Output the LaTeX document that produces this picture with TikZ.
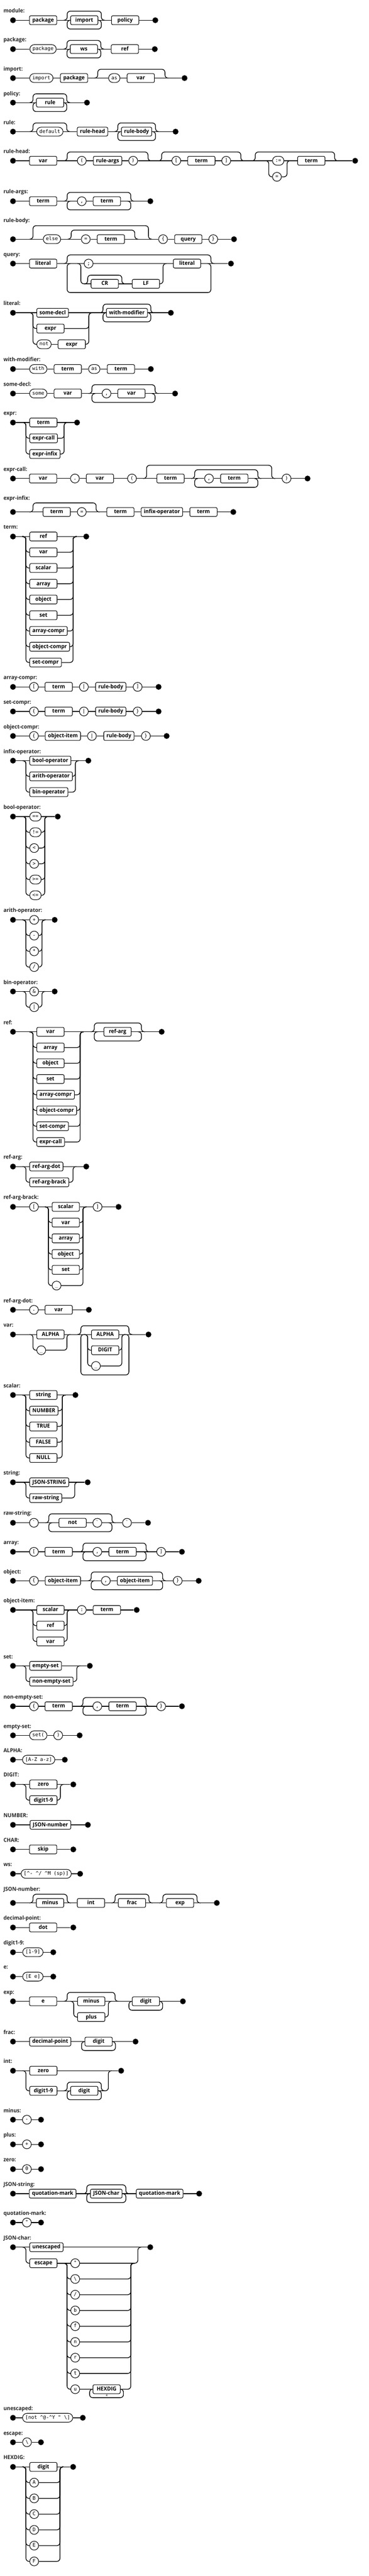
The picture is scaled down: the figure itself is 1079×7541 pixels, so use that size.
\documentclass[tikz,border=0pt]{standalone}
\usepackage{fontspec}
\setmainfont{Open Sans}[FakeStretch=0.95]
\setmonofont{DejaVu Sans Mono}

\newcommand\rrskip[4]{\draw[rrline] (#1-10,#3) -| (#1,#4) -| (#2,#3) -- (#2+10,#3);}
\newcommand\rrloop[4]{\draw[rrline] (#2-10,#3) -| (#2,#4) -| (#1,#3) -- (#1+10,#3);}
\newcommand\rrdown[4]{\draw[rrline] (#1-10,#2) -| (#1,#3) -- (#4.west);}
\newcommand\rrup[3]{\draw[rrline] (#1.east) -| (#2,#3) -- (#2+10,#3);}

\tikzset{
  rrhead/.style={anchor=base west, inner sep=0pt, text=black!85, font=\bfseries\fontsize{16}{18}\selectfont},
  rrbox/.style={draw, line width=1.6pt, rounded corners=4pt, minimum width=80pt, minimum height=26pt, inner xsep=8pt, inner ysep=0pt, text height=11pt, text depth=2pt, font=\bfseries\fontsize{16}{18}\selectfont},
  rrterm/.style={draw, line width=1.6pt, rounded corners=13pt, minimum height=26pt, inner xsep=8pt, inner ysep=0pt, text height=10pt, text depth=2pt, font=\ttfamily\fontsize{14.5}{16}\selectfont},
  rrchar/.style={draw, circle, line width=1.6pt, minimum size=26pt, inner sep=0pt, text height=10pt, text depth=2pt, font=\ttfamily\fontsize{14.5}{16}\selectfont},
  rrdot/.style={circle, fill, inner sep=0pt, minimum size=17pt},
  rrline/.style={line width=2pt, rounded corners=9pt},
}

\begin{document}
\begin{tikzpicture}[x=1pt, y=-1pt]
\fill[white] (0,0) rectangle (1079,7541);
\useasboundingbox (0,0) rectangle (1079,7541);

\node[rrhead] (mod-t) at (10,36.8) {module:};
\node[rrdot] (mod-s) at (38,59.2) {};
\node[rrbox] (mod-package) at (126.2,59.2) {package};
\node[rrbox] (mod-import) at (246.6,59.2) {import};
\node[rrbox] (mod-policy) at (366.2,59.2) {policy};
\node[rrdot] (mod-e) at (454.5,59.2) {};
\draw[rrline] (mod-s) to (mod-package) to (mod-import) to (mod-policy) to (mod-e);
\rrskip{196.6}{296.6}{59.2}{32.7}
\rrloop{196.6}{296.6}{59.2}{84.9}

\node[rrhead] (pkg-t) at (10,122.1) {package:};
\node[rrdot] (pkg-s) at (38,143.7) {};
\node[rrterm] (pkg-kw) at (126,143.7) {package};
\node[rrbox] (pkg-ws) at (245.5,143.7) {ws};
\node[rrbox] (pkg-ref) at (365.5,143.7) {ref};
\node[rrdot] (pkg-e) at (453,143.7) {};
\draw[rrline] (pkg-s) to (pkg-kw) to (pkg-ws) to (pkg-ref) to (pkg-e);
\rrskip{196}{295}{143.7}{118.4}
\rrloop{196}{295}{143.7}{169.4}

\node[rrhead] (imp-t) at (10,207) {import:};
\node[rrdot] (imp-s) at (38,228.6) {};
\node[rrterm] (imp-kw) at (121,228.6) {import};
\node[rrbox] (imp-package) at (216.6,228.6) {package};
\node[rrterm] (imp-as) at (334.5,228.6) {as};
\node[rrbox] (imp-var) at (412,228.6) {var};
\node[rrdot] (imp-e) at (540,228.6) {};
\draw[rrline] (imp-s) to (imp-kw) to (imp-package) to (imp-as) to (imp-var) to (imp-e);
\rrskip{286}{482.8}{228.6}{202.9}

\node[rrhead] (pol-t) at (10,279.3) {policy:};
\node[rrdot] (pol-s) at (38,300.4) {};
\node[rrbox] (pol-rule) at (146.6,300.4) {rule};
\node[rrdot] (pol-e) at (254.5,300.4) {};
\draw[rrline] (pol-s) to (pol-rule) to (pol-e);
\rrskip{96.6}{195.2}{300.4}{274.7}
\rrloop{96.6}{195.2}{300.4}{326.5}

\node[rrhead] (rule-t) at (10,364.2) {rule:};
\node[rrdot] (rule-s) at (38,385.3) {};
\node[rrterm] (rule-default) at (145.9,385.3) {default};
\node[rrbox] (rule-head) at (270.7,385.3) {rule-head};
\node[rrbox] (rule-body) at (399.7,385.3) {rule-body};
\node[rrdot] (rule-e) at (513.8,385.3) {};
\draw[rrline] (rule-s) to (rule-default) to (rule-head) to (rule-body) to (rule-e);
\rrskip{96.6}{195.2}{385.3}{360}
\rrskip{344.8}{455.2}{385.3}{360}
\rrloop{344.8}{455.2}{385.3}{411.4}

\node[rrhead] (rh-t) at (10,448.7) {rule-head:};
\node[rrdot] (rh-s) at (38,470.6) {};
\node[rrbox] (rh-var) at (126.2,470.6) {var};
\node[rrchar] (rh-lp) at (239.3,470.6) {(};
\node[rrbox] (rh-args) at (314.8,470.6) {rule-args};
\node[rrchar] (rh-rp) at (389.7,470.6) {)};
\node[rrchar] (rh-lb) at (515.9,470.6) {[};
\node[rrbox] (rh-term) at (589.3,470.6) {term};
\node[rrchar] (rh-rb) at (662,470.6) {]};
\node[rrterm, anchor=west] (rh-assign) at (796.6,470.6) {:=};
\node[rrchar, anchor=west] (rh-eq) at (796.6,517.6) {=};
\node[rrbox] (rh-val) at (911,470.6) {term};
\node[rrdot] (rh-e) at (1039.3,470.6) {};
\draw[rrline] (rh-s) to (rh-var) to (rh-lp) to (rh-args) to (rh-rp) to (rh-lb) to (rh-term) to (rh-rb) to (rh-assign) to (rh-val) to (rh-e);
\rrskip{196.6}{433.1}{470.6}{444.9}
\rrskip{473.1}{704.8}{470.6}{444.9}
\rrskip{746.9}{979.3}{470.6}{444.9}
\rrdown{786.6}{470.6}{517.6}{rh-eq}
\rrup{rh-eq}{840}{470.6}

\node[rrhead] (ra-t) at (10,567) {rule-args:};
\node[rrdot] (ra-s) at (38,589) {};
\node[rrbox] (ra-term) at (126.2,589) {term};
\node[rrchar] (ra-comma) at (239.3,589) {,};
\node[rrbox] (ra-term2) at (312.8,589) {term};
\node[rrdot] (ra-e) at (440,589) {};
\draw[rrline] (ra-s) to (ra-term) to (ra-comma) to (ra-term2) to (ra-e);
\rrskip{196.6}{382.8}{589}{563.3}
\rrloop{196.6}{382.8}{589}{614.3}

\node[rrhead] (rb-t) at (10,651.3) {rule-body:};
\node[rrdot] (rb-s) at (38,700.2) {};
\node[rrterm] (rb-else) at (152,700.2) {else};
\node[rrchar] (rb-eq) at (251,700.2) {=};
\node[rrbox] (rb-term) at (324.5,700.2) {term};
\node[rrchar] (rb-lc) at (477.2,700.2) {\{};
\node[rrbox] (rb-query) at (551,700.2) {query};
\node[rrchar] (rb-rc) at (624.1,700.2) {\}};
\node[rrdot] (rb-e) at (684.8,700.2) {};
\draw[rrline] (rb-s) to (rb-else) to (rb-eq) to (rb-term) to (rb-lc) to (rb-query) to (rb-rc) to (rb-e);
\rrskip{96.6}{434.5}{700.2}{660.6}
\rrskip{208.3}{394.5}{700.2}{673.7}

\node[rrhead] (q-t) at (10,750.5) {query:};
\node[rrdot] (q-s) at (38,771.6) {};
\node[rrbox] (q-lit) at (126.2,771.6) {literal};
\node[rrchar] (q-semi) at (259.3,771.6) {;};
\node[rrbox] (q-cr) at (306.6,830.8) {CR};
\node[rrbox] (q-lf) at (426.9,830.8) {LF};
\node[rrbox] (q-lit2) at (547.2,771.6) {literal};
\node[rrdot] (q-e) at (675.9,771.6) {};
\draw[rrline] (q-s) to (q-lit) to (q-semi) to (q-lit2) to (q-e);
\draw[rrline] (q-cr) to (q-lf);
\rrskip{196.6}{617.2}{771.6}{746.3}
\rrloop{196.6}{617.2}{771.6}{856.5}
\rrdown{236.6}{771.6}{830.8}{q-cr}
\rrskip{256.6}{356.6}{830.8}{805.5}
\rrup{q-lf}{477.2}{771.6}

\node[rrhead] (lit-t) at (10,893.4) {literal:};
\node[rrdot] (lit-s) at (38,915.7) {};
\node[rrbox, anchor=west] (lit-some) at (106.9,915.7) {some-decl};
\node[rrbox, anchor=west] (lit-expr) at (106.9,961.8) {expr};
\node[rrterm, anchor=west] (lit-not) at (106.9,1007.9) {not};
\node[rrbox] (lit-expr2) at (210,1007.9) {expr};
\node[rrbox] (lit-with) at (371.4,915.7) {with-modifier};
\node[rrdot] (lit-e) at (500,915.7) {};
\draw[rrline] (lit-s) to (lit-some) to (lit-with) to (lit-e);
\draw[rrline] (lit-not) to (lit-expr2);
\rrdown{96.6}{915.7}{961.8}{lit-expr}
\rrup{lit-expr}{260}{915.7}
\rrdown{96.6}{915.7}{1007.9}{lit-not}
\rrup{lit-expr2}{260}{915.7}
\rrskip{301.4}{441.4}{915.7}{890.4}
\rrloop{301.4}{441.4}{915.7}{942.2}

\node[rrhead] (wm-t) at (10,1057.4) {with-modifier:};
\node[rrdot] (wm-s) at (38,1080.2) {};
\node[rrterm] (wm-with) at (112,1080.2) {with};
\node[rrbox] (wm-term) at (198.3,1080.2) {term};
\node[rrterm] (wm-as) at (275.9,1080.2) {as};
\node[rrbox] (wm-term2) at (353.8,1080.2) {term};
\node[rrdot] (wm-e) at (441.4,1080.2) {};
\draw[rrline] (wm-s) to (wm-with) to (wm-term) to (wm-as) to (wm-term2) to (wm-e);

\node[rrhead] (sd-t) at (10,1129.7) {some-decl:};
\node[rrdot] (sd-s) at (38,1152) {};
\node[rrterm] (sd-some) at (112,1152) {some};
\node[rrbox] (sd-var) at (198.3,1152) {var};
\node[rrchar] (sd-comma) at (311.7,1152) {,};
\node[rrbox] (sd-var2) at (384.8,1152) {var};
\node[rrdot] (sd-e) at (512.4,1152) {};
\draw[rrline] (sd-s) to (sd-some) to (sd-var) to (sd-comma) to (sd-var2) to (sd-e);
\rrskip{269}{453.8}{1152}{1126.3}
\rrloop{269}{453.8}{1152}{1177.8}

\node[rrhead] (ex-t) at (10,1215.4) {expr:};
\node[rrdot] (ex-s) at (38,1236.9) {};
\node[rrbox, anchor=west] (ex-term) at (86.2,1236.9) {term};
\node[rrbox, anchor=west] (ex-call) at (86.2,1283) {expr-call};
\node[rrbox, anchor=west] (ex-infix) at (86.2,1329.1) {expr-infix};
\node[rrdot] (ex-e) at (225.5,1236.9) {};
\draw[rrline] (ex-s) to (ex-term) to (ex-e);
\rrdown{75.9}{1236.9}{1283}{ex-call}
\rrup{ex-call}{187.6}{1236.9}
\rrdown{75.9}{1236.9}{1329.1}{ex-infix}
\rrup{ex-infix}{187.6}{1236.9}

\node[rrhead] (ec-t) at (10,1379.3) {expr-call:};
\node[rrdot] (ec-s) at (38,1400.8) {};
\node[rrbox] (ec-var) at (126.2,1400.8) {var};
\node[rrchar] (ec-dot) at (219.3,1400.8) {.};
\node[rrbox] (ec-var2) at (292.4,1400.8) {var};
\node[rrchar] (ec-lp) at (386.2,1400.8) {(};
\node[rrbox] (ec-term) at (499,1400.8) {term};
\node[rrchar] (ec-comma) at (611.7,1400.8) {,};
\node[rrbox] (ec-term2) at (685.5,1400.8) {term};
\node[rrchar] (ec-rp) at (838.6,1400.8) {)};
\node[rrdot] (ec-e) at (900,1400.8) {};
\draw[rrline] (ec-s) to (ec-var) to (ec-dot) to (ec-var2) to (ec-lp) to (ec-term) to (ec-comma) to (ec-term2) to (ec-rp) to (ec-e);
\rrskip{429}{795.2}{1400.8}{1362}
\rrskip{569.7}{754.5}{1400.8}{1375.1}
\rrloop{569.7}{754.5}{1400.8}{1426.5}

\node[rrhead] (ei-t) at (10,1464.2) {expr-infix:};
\node[rrdot] (ei-s) at (38,1498.8) {};
\node[rrbox] (ei-term) at (165.9,1498.8) {term};
\node[rrchar] (ei-eq) at (239.3,1498.8) {=};
\node[rrbox] (ei-term2) at (352.4,1498.8) {term};
\node[rrbox] (ei-op) at (473.8,1498.8) {infix-operator};
\node[rrbox] (ei-term3) at (595.5,1498.8) {term};
\node[rrdot] (ei-e) at (682.8,1498.8) {};
\draw[rrline] (ei-s) to (ei-term) to (ei-eq) to (ei-term2) to (ei-op) to (ei-term3) to (ei-e);
\rrskip{96.6}{281.4}{1498.8}{1472.2}

\node[rrhead] (tm-t) at (10,1548.7) {term:};
\node[rrdot] (tm-s) at (38,1570.6) {};
\node[rrbox, anchor=west] (tm-0) at (86.2,1570.6) {ref};
\foreach \lbl [count=\i] in {var,scalar,array,object,set,array-compr,object-compr,set-compr} {
  \node[rrbox, anchor=west] (tm-\i) at (86.2,1570.6+46.1*\i) {\lbl};
  \rrdown{75.9}{1570.6}{1570.6+46.1*\i}{tm-\i}
  \rrup{tm-\i}{213.8}{1570.6}
}
\node[rrdot] (tm-e) at (252.4,1570.6) {};
\draw[rrline] (tm-s) to (tm-0) to (tm-e);

\node[rrhead] (ac-t) at (10,1988.9) {array-compr:};
\node[rrdot] (ac-s) at (38,2010.8) {};
\node[rrchar] (ac-lb) at (99.3,2010.8) {[};
\node[rrbox] (ac-term) at (171.7,2010.8) {term};
\node[rrchar] (ac-bar) at (245.5,2010.8) {|};
\node[rrbox] (ac-body) at (324.1,2010.8) {rule-body};
\node[rrchar] (ac-rb) at (402.8,2010.8) {]};
\node[rrdot] (ac-e) at (464.1,2010.8) {};
\draw[rrline] (ac-s) to (ac-lb) to (ac-term) to (ac-bar) to (ac-body) to (ac-rb) to (ac-e);

\node[rrhead] (sc-t) at (10,2061.1) {set-compr:};
\node[rrdot] (sc-s) at (38,2082.7) {};
\node[rrchar] (sc-lc) at (99.3,2082.7) {\{};
\node[rrbox] (sc-term) at (171.7,2082.7) {term};
\node[rrchar] (sc-bar) at (245.5,2082.7) {|};
\node[rrbox] (sc-body) at (324.1,2082.7) {rule-body};
\node[rrchar] (sc-rc) at (402.8,2082.7) {\}};
\node[rrdot] (sc-e) at (464.1,2082.7) {};
\draw[rrline] (sc-s) to (sc-lc) to (sc-term) to (sc-bar) to (sc-body) to (sc-rc) to (sc-e);

\node[rrhead] (oc-t) at (10,2133) {object-compr:};
\node[rrdot] (oc-s) at (38,2154.5) {};
\node[rrchar] (oc-lc) at (99.3,2154.5) {\{};
\node[rrbox] (oc-item) at (184.1,2154.5) {object-item};
\node[rrchar] (oc-bar) at (269,2154.5) {|};
\node[rrbox] (oc-body) at (347.9,2154.5) {rule-body};
\node[rrchar] (oc-rc) at (426.9,2154.5) {\}};
\node[rrdot] (oc-e) at (487.6,2154.5) {};
\draw[rrline] (oc-s) to (oc-lc) to (oc-item) to (oc-bar) to (oc-body) to (oc-rc) to (oc-e);

\node[rrhead] (io-t) at (10,2205.2) {infix-operator:};
\node[rrdot] (io-s) at (38,2226.7) {};
\node[rrbox, anchor=west] (io-0) at (86.2,2226.7) {bool-operator};
\foreach \lbl [count=\i] in {arith-operator,bin-operator} {
  \node[rrbox, anchor=west] (io-\i) at (86.2,2226.7+46.1*\i) {\lbl};
  \rrdown{75.9}{2226.7}{2226.7+46.1*\i}{io-\i}
  \rrup{io-\i}{220.7}{2226.7}
}
\node[rrdot] (io-e) at (258.6,2226.7) {};
\draw[rrline] (io-s) to (io-0) to (io-e);

\node[rrhead] (bo-t) at (10,2369.3) {bool-operator:};
\node[rrdot] (bo-s) at (38,2390.4) {};
\node[rrterm, anchor=west] (bo-0) at (86.2,2390.4) {==};
\node[rrterm, anchor=west] (bo-1) at (86.2,2436.5) {!=};
\node[rrchar, anchor=west] (bo-2) at (86.2,2482.6) {<};
\node[rrchar, anchor=west] (bo-3) at (86.2,2528.7) {>};
\node[rrterm, anchor=west] (bo-4) at (86.2,2574.8) {>=};
\node[rrterm, anchor=west] (bo-5) at (86.2,2620.9) {<=};
\foreach \i in {1,...,5} {
  \rrdown{75.9}{2390.4}{2390.4+46.1*\i}{bo-\i}
  \rrup{bo-\i}{131}{2390.4}
}
\node[rrdot] (bo-e) at (169,2390.4) {};
\draw[rrline] (bo-s) to (bo-0) to (bo-e);

\node[rrhead] (ao-t) at (10,2670.7) {arith-operator:};
\node[rrdot] (ao-s) at (38,2692.7) {};
\node[rrchar, anchor=west] (ao-0) at (86.2,2692.7) {+};
\foreach \lbl [count=\i] in {-,*,/} {
  \node[rrchar, anchor=west] (ao-\i) at (86.2,2692.7+46.1*\i) {\lbl};
  \rrdown{75.9}{2692.7}{2692.7+46.1*\i}{ao-\i}
  \rrup{ao-\i}{122.8}{2692.7}
}
\node[rrdot] (ao-e) at (160,2692.7) {};
\draw[rrline] (ao-s) to (ao-0) to (ao-e);

\node[rrhead] (bi-t) at (10,2880.9) {bin-operator:};
\node[rrdot] (bi-s) at (38,2902.4) {};
\node[rrchar, anchor=west] (bi-0) at (86.2,2902.4) {\&};
\node[rrchar, anchor=west] (bi-1) at (86.2,2948.5) {|};
\node[rrdot] (bi-e) at (160,2902.4) {};
\draw[rrline] (bi-s) to (bi-0) to (bi-e);
\rrdown{75.9}{2902.4}{2948.5}{bi-1}
\rrup{bi-1}{122.8}{2902.4}

\node[rrhead] (rf-t) at (10,2999.3) {ref:};
\node[rrdot] (rf-s) at (38,3020.4) {};
\node[rrbox, anchor=west] (rf-0) at (106.9,3020.4) {var};
\foreach \lbl [count=\i] in {array,object,set,array-compr,object-compr,set-compr,expr-call} {
  \node[rrbox, anchor=west] (rf-\i) at (106.9,3020.4+46.1*\i) {\lbl};
  \rrdown{96.6}{3020.4}{3020.4+46.1*\i}{rf-\i}
  \rrup{rf-\i}{234.5}{3020.4}
}
\node[rrbox] (rf-arg) at (344.1,3020.4) {ref-arg};
\node[rrdot] (rf-e) at (473.1,3020.4) {};
\draw[rrline] (rf-s) to (rf-0) to (rf-arg) to (rf-e);
\rrskip{275.9}{413.8}{3020.4}{2994.7}
\rrloop{275.9}{413.8}{3020.4}{3047.3}

\node[rrhead] (ra2-t) at (10,3393) {ref-arg:};
\node[rrdot] (ra2-s) at (38,3414.9) {};
\node[rrbox, anchor=west] (ra2-dot) at (86.2,3414.9) {ref-arg-dot};
\node[rrbox, anchor=west] (ra2-brack) at (86.2,3461) {ref-arg-brack};
\node[rrdot] (ra2-e) at (252.4,3414.9) {};
\draw[rrline] (ra2-s) to (ra2-dot) to (ra2-e);
\rrdown{75.9}{3414.9}{3461}{ra2-brack}
\rrup{ra2-brack}{213.8}{3414.9}

\node[rrhead] (rab-t) at (10,3510.9) {ref-arg-brack:};
\node[rrdot] (rab-s) at (38,3532.9) {};
\node[rrchar] (rab-lb) at (99.3,3532.9) {[};
\node[rrbox, anchor=west] (rab-0) at (151.7,3532.9) {scalar};
\node[rrbox, anchor=west] (rab-1) at (151.7,3579) {var};
\node[rrbox, anchor=west] (rab-2) at (151.7,3625.1) {array};
\node[rrbox, anchor=west] (rab-3) at (151.7,3671.2) {object};
\node[rrbox, anchor=west] (rab-4) at (151.7,3717.3) {set};
\node[rrchar, anchor=west] (rab-5) at (151.7,3763.4) {\_};
\foreach \i in {1,...,5} {
  \rrdown{141.7}{3532.9}{3532.9+46.1*\i}{rab-\i}
  \rrup{rab-\i}{242.8}{3532.9}
}
\node[rrchar] (rab-rb) at (285.5,3532.9) {]};
\node[rrdot] (rab-e) at (346.9,3532.9) {};
\draw[rrline] (rab-s) to (rab-lb) to (rab-0) to (rab-rb) to (rab-e);

\node[rrhead] (rad-t) at (10,3812.8) {ref-arg-dot:};
\node[rrdot] (rad-s) at (38,3834.3) {};
\node[rrchar] (rad-dot) at (99.3,3834.3) {.};
\node[rrbox] (rad-var) at (171.7,3834.3) {var};
\node[rrdot] (rad-e) at (260,3834.3) {};
\draw[rrline] (rad-s) to (rad-dot) to (rad-var) to (rad-e);

\node[rrhead] (v-t) at (10,3885) {var:};
\node[rrdot] (v-s) at (38,3906.5) {};
\node[rrbox, anchor=west] (v-alpha) at (106.9,3906.5) {ALPHA};
\node[rrchar, anchor=west] (v-us) at (106.9,3952.6) {\_};
\node[rrbox, anchor=west] (v-alpha2) at (266.9,3906.5) {ALPHA};
\node[rrbox, anchor=west] (v-digit) at (266.9,3952.6) {DIGIT};
\node[rrchar, anchor=west] (v-us2) at (266.9,3998.7) {\_};
\node[rrdot] (v-e) at (434.5,3906.5) {};
\draw[rrline] (v-s) to (v-alpha) to (v-alpha2) to (v-e);
\rrdown{96.6}{3906.5}{3952.6}{v-us}
\rrup{v-us}{195.9}{3906.5}
\rrdown{256.6}{3906.5}{3952.6}{v-digit}
\rrup{v-digit}{356.6}{3906.5}
\rrdown{256.6}{3906.5}{3998.7}{v-us2}
\rrup{v-us2}{356.6}{3906.5}
\rrskip{236.6}{377.2}{3906.5}{3880.8}
\rrloop{236.6}{377.2}{3906.5}{4024.9}

\node[rrhead] (sl-t) at (10,4061.7) {scalar:};
\node[rrdot] (sl-s) at (38,4083.7) {};
\node[rrbox, anchor=west] (sl-0) at (86.2,4083.7) {string};
\foreach \lbl [count=\i] in {NUMBER,TRUE,FALSE,NULL} {
  \node[rrbox, anchor=west] (sl-\i) at (86.2,4083.7+46.1*\i) {\lbl};
  \rrdown{75.9}{4083.7}{4083.7+46.1*\i}{sl-\i}
  \rrup{sl-\i}{182}{4083.7}
}
\node[rrdot] (sl-e) at (220.7,4083.7) {};
\draw[rrline] (sl-s) to (sl-0) to (sl-e);

\node[rrhead] (st-t) at (10,4317.7) {string:};
\node[rrdot] (st-s) at (38,4339.2) {};
\node[rrbox, anchor=west] (st-json) at (86.2,4339.2) {JSON-STRING};
\node[rrbox, anchor=west] (st-raw) at (86.2,4385.3) {raw-string};
\node[rrdot] (st-e) at (256.6,4339.2) {};
\draw[rrline] (st-s) to (st-json) to (st-e);
\rrdown{75.9}{4339.2}{4385.3}{st-raw}
\rrup{st-raw}{218.6}{4339.2}

\node[rrhead] (rs-t) at (10,4435.4) {raw-string:};
\node[rrdot] (rs-s) at (38,4457.8) {};
\node[rrchar] (rs-q1) at (99.3,4457.8) {`};
\node[rrbox] (rs-not) at (212.4,4457.8) {not};
\node[rrchar] (rs-q2) at (284.8,4457.8) {`};
\node[rrchar] (rs-q3) at (371.7,4457.8) {`};
\node[rrdot] (rs-e) at (433.1,4457.8) {};
\draw[rrline] (rs-s) to (rs-q1) to (rs-not) to (rs-q2) to (rs-q3) to (rs-e);
\rrskip{142.8}{327.6}{4457.8}{4431.6}
\rrloop{142.8}{327.6}{4457.8}{4483.9}

\node[rrhead] (ar-t) at (10,4521.1) {array:};
\node[rrdot] (ar-s) at (38,4542.7) {};
\node[rrchar] (ar-lb) at (99.3,4542.7) {[};
\node[rrbox] (ar-term) at (171.7,4542.7) {term};
\node[rrchar] (ar-comma) at (284.8,4542.7) {,};
\node[rrbox] (ar-term2) at (358.6,4542.7) {term};
\node[rrchar] (ar-rb) at (471.7,4542.7) {]};
\node[rrdot] (ar-e) at (532.4,4542.7) {};
\draw[rrline] (ar-s) to (ar-lb) to (ar-term) to (ar-comma) to (ar-term2) to (ar-rb) to (ar-e);
\rrskip{242.8}{427.6}{4542.7}{4517.3}
\rrloop{242.8}{427.6}{4542.7}{4568.8}

\node[rrhead] (ob-t) at (10,4606) {object:};
\node[rrdot] (ob-s) at (38,4627.6) {};
\node[rrchar] (ob-lc) at (99.3,4627.6) {\{};
\node[rrbox] (ob-item) at (184.1,4627.6) {object-item};
\node[rrchar] (ob-comma) at (309.7,4627.6) {,};
\node[rrbox] (ob-item2) at (394.8,4627.6) {object-item};
\node[rrchar] (ob-rc) at (520,4627.6) {\}};
\node[rrdot] (ob-e) at (581.4,4627.6) {};
\draw[rrline] (ob-s) to (ob-lc) to (ob-item) to (ob-comma) to (ob-item2) to (ob-rc) to (ob-e);
\rrskip{266.9}{475.9}{4627.6}{4601.8}
\rrloop{266.9}{475.9}{4627.6}{4653.7}

\node[rrhead] (oi-t) at (10,4690.9) {object-item:};
\node[rrdot] (oi-s) at (38,4712.9) {};
\node[rrbox, anchor=west] (oi-0) at (106.9,4712.9) {scalar};
\node[rrbox, anchor=west] (oi-1) at (106.9,4759) {ref};
\node[rrbox, anchor=west] (oi-2) at (106.9,4805.1) {var};
\node[rrchar] (oi-colon) at (239.3,4712.9) {:};
\node[rrbox] (oi-term) at (312.8,4712.9) {term};
\node[rrdot] (oi-e) at (400,4712.9) {};
\draw[rrline] (oi-s) to (oi-0) to (oi-colon) to (oi-term) to (oi-e);
\foreach \i in {1,2} {
  \rrdown{96.6}{4712.9}{4712.9+46.1*\i}{oi-\i}
  \rrup{oi-\i}{196.6}{4712.9}
}

\node[rrhead] (se-t) at (10,4855) {set:};
\node[rrdot] (se-s) at (38,4876.5) {};
\node[rrbox, anchor=west] (se-empty) at (86.2,4876.5) {empty-set};
\node[rrbox, anchor=west] (se-full) at (86.2,4922.6) {non-empty-set};
\node[rrdot] (se-e) at (262.8,4876.5) {};
\draw[rrline] (se-s) to (se-empty) to (se-e);
\rrdown{75.9}{4876.5}{4922.6}{se-full}
\rrup{se-full}{224.8}{4876.5}

\node[rrhead] (ne-t) at (10,4973) {non-empty-set:};
\node[rrdot] (ne-s) at (38,4994.9) {};
\node[rrchar] (ne-lc) at (99.3,4994.9) {\{};
\node[rrbox] (ne-term) at (171.7,4994.9) {term};
\node[rrchar] (ne-comma) at (284.8,4994.9) {,};
\node[rrbox] (ne-term2) at (358.6,4994.9) {term};
\node[rrchar] (ne-rc) at (471.7,4994.9) {\}};
\node[rrdot] (ne-e) at (532.4,4994.9) {};
\draw[rrline] (ne-s) to (ne-lc) to (ne-term) to (ne-comma) to (ne-term2) to (ne-rc) to (ne-e);
\rrskip{242.8}{427.6}{4994.9}{4969.5}
\rrloop{242.8}{427.6}{4994.9}{5021}

\node[rrhead] (es-t) at (10,5058.5) {empty-set:};
\node[rrdot] (es-s) at (38,5080) {};
\node[rrterm] (es-set) at (112,5080) {set(};
\node[rrchar] (es-rp) at (170.3,5080) {)};
\node[rrdot] (es-e) at (233.1,5080) {};
\draw[rrline] (es-s) to (es-set) to (es-rp) to (es-e);

\node[rrhead] (al-t) at (10,5129.9) {ALPHA:};
\node[rrdot] (al-s) at (38,5151.4) {};
\node[rrterm] (al-rng) at (113.1,5151.4) {[A-Z a-z]};
\node[rrdot] (al-e) at (189.7,5151.4) {};
\draw[rrline] (al-s) to (al-rng) to (al-e);

\node[rrhead] (dg-t) at (10,5201.7) {DIGIT:};
\node[rrdot] (dg-s) at (38,5223.7) {};
\node[rrbox, anchor=west] (dg-zero) at (86.2,5223.7) {zero};
\node[rrbox, anchor=west] (dg-d19) at (86.2,5269.8) {digit1-9};
\node[rrdot] (dg-e) at (214.5,5223.7) {};
\draw[rrline] (dg-s) to (dg-zero) to (dg-e);
\rrdown{75.9}{5223.7}{5269.8}{dg-d19}
\rrup{dg-d19}{176.6}{5223.7}

\node[rrhead] (nu-t) at (10,5319.7) {NUMBER:};
\node[rrdot] (nu-s) at (38,5342) {};
\node[rrbox] (nu-json) at (147.6,5342) {JSON-number};
\node[rrdot] (nu-e) at (257.2,5342) {};
\draw[rrline] (nu-s) to (nu-json) to (nu-e);

\node[rrhead] (ch-t) at (10,5391.9) {CHAR:};
\node[rrdot] (ch-s) at (38,5413.9) {};
\node[rrbox] (ch-skip) at (126.2,5413.9) {skip};
\node[rrdot] (ch-e) at (214.5,5413.9) {};
\draw[rrline] (ch-s) to (ch-skip) to (ch-e);

\node[rrhead] (ws-t) at (10,5463.5) {ws:};
\node[rrdot] (ws-s) at (38,5485.3) {};
\node[rrterm] (ws-set) at (135.2,5485.3) {[\textasciicircum- \textasciicircum/ \textasciicircum M (sp)]};
\node[rrdot] (ws-e) at (234.5,5485.3) {};
\draw[rrline] (ws-s) to (ws-set) to (ws-e);

\node[rrhead] (jn-t) at (10,5535.6) {JSON-number:};
\node[rrdot] (jn-s) at (38,5570.6) {};
\node[rrbox] (jn-minus) at (146.6,5570.6) {minus};
\node[rrbox] (jn-int) at (266.2,5570.6) {int};
\node[rrbox] (jn-frac) at (386.2,5570.6) {frac};
\node[rrbox] (jn-exp) at (526.9,5570.6) {exp};
\node[rrdot] (jn-e) at (634.5,5570.6) {};
\draw[rrline] (jn-s) to (jn-minus) to (jn-int) to (jn-frac) to (jn-exp) to (jn-e);
\rrskip{96.6}{196.6}{5570.6}{5545.3}
\rrskip{336.6}{435.9}{5570.6}{5545.3}
\rrskip{476.6}{576.6}{5570.6}{5545.3}

\node[rrhead] (dp-t) at (10,5620.5) {decimal-point:};
\node[rrdot] (dp-s) at (38,5642.4) {};
\node[rrbox] (dp-dot) at (126.2,5642.4) {dot};
\node[rrdot] (dp-e) at (214.5,5642.4) {};
\draw[rrline] (dp-s) to (dp-dot) to (dp-e);

\node[rrhead] (d19-t) at (10,5692.6) {digit1-9:};
\node[rrdot] (d19-s) at (38,5714.9) {};
\node[rrterm] (d19-rng) at (96.2,5714.9) {[1-9]};
\node[rrdot] (d19-e) at (155.9,5714.9) {};
\draw[rrline] (d19-s) to (d19-rng) to (d19-e);

\node[rrhead] (ee-t) at (10,5764) {e:};
\node[rrdot] (ee-s) at (38,5786.3) {};
\node[rrterm] (ee-rng) at (96.2,5786.3) {[E e]};
\node[rrdot] (ee-e) at (155.9,5786.3) {};
\draw[rrline] (ee-s) to (ee-rng) to (ee-e);

\node[rrhead] (xp-t) at (10,5837) {exp:};
\node[rrdot] (xp-s) at (38,5858.6) {};
\node[rrbox] (xp-e) at (126.2,5858.6) {e};
\node[rrbox, anchor=west] (xp-minus) at (226.2,5858.6) {minus};
\node[rrbox, anchor=west] (xp-plus) at (226.2,5904.7) {plus};
\node[rrbox] (xp-digit) at (426.9,5858.6) {digit};
\node[rrdot] (xp-end) at (535.2,5858.6) {};
\draw[rrline] (xp-s) to (xp-e) to (xp-minus) to (xp-digit) to (xp-end);
\rrskip{196.6}{336.6}{5858.6}{5832.4}
\rrdown{215.9}{5858.6}{5904.7}{xp-plus}
\rrup{xp-plus}{317.2}{5858.6}
\rrloop{377.2}{475.9}{5858.6}{5884.7}

\node[rrhead] (fr-t) at (10,5954.6) {frac:};
\node[rrdot] (fr-s) at (38,5976.5) {};
\node[rrbox] (fr-dp) at (146.9,5976.5) {decimal-point};
\node[rrbox] (fr-digit) at (288.6,5976.5) {digit};
\node[rrdot] (fr-e) at (396.6,5976.5) {};
\draw[rrline] (fr-s) to (fr-dp) to (fr-digit) to (fr-e);
\rrloop{238.6}{337.9}{5976.5}{6002.7}

\node[rrhead] (in-t) at (10,6039.5) {int:};
\node[rrdot] (in-s) at (38,6061.8) {};
\node[rrbox, anchor=west] (in-zero) at (86.2,6061.8) {zero};
\node[rrbox, anchor=west] (in-d19) at (86.2,6120.6) {digit1-9};
\node[rrbox] (in-digit) at (246.6,6120.6) {digit};
\node[rrdot] (in-e) at (354.5,6061.8) {};
\draw[rrline] (in-s) to (in-zero) to (in-e);
\draw[rrline] (in-d19) to (in-digit);
\rrdown{75.9}{6061.8}{6120.6}{in-d19}
\rrskip{196.6}{296.6}{6120.6}{6095.3}
\rrloop{196.6}{296.6}{6120.6}{6146.7}
\rrup{in-digit}{317.2}{6061.8}

\node[rrhead] (mi-t) at (10,6184) {minus:};
\node[rrdot] (mi-s) at (38,6205.1) {};
\node[rrchar] (mi-ch) at (78.6,6205.1) {-};
\node[rrdot] (mi-e) at (120,6205.1) {};
\draw[rrline] (mi-s) to (mi-ch) to (mi-e);

\node[rrhead] (pl-t) at (10,6255.8) {plus:};
\node[rrdot] (pl-s) at (38,6277.3) {};
\node[rrchar] (pl-ch) at (78.6,6277.3) {+};
\node[rrdot] (pl-e) at (120,6277.3) {};
\draw[rrline] (pl-s) to (pl-ch) to (pl-e);

\node[rrhead] (ze-t) at (10,6328.3) {zero:};
\node[rrdot] (ze-s) at (38,6349.8) {};
\node[rrchar] (ze-ch) at (78.6,6349.8) {0};
\node[rrdot] (ze-e) at (120,6349.8) {};
\draw[rrline] (ze-s) to (ze-ch) to (ze-e);

\node[rrhead] (js-t) at (10,6400.1) {JSON-string:};
\node[rrdot] (js-s) at (38,6421.6) {};
\node[rrbox] (js-q1) at (154.1,6421.6) {quotation-mark};
\node[rrbox] (js-char) at (311,6421.6) {JSON-char};
\node[rrbox] (js-q2) at (467.2,6421.6) {quotation-mark};
\node[rrdot] (js-e) at (582.8,6421.6) {};
\draw[rrline] (js-s) to (js-q1) to (js-char) to (js-q2) to (js-e);
\rrskip{253.8}{368.3}{6421.6}{6395.9}
\rrloop{253.8}{368.3}{6421.6}{6447.8}

\node[rrhead] (qm-t) at (10,6485) {quotation-mark:};
\node[rrdot] (qm-s) at (38,6506.1) {};
\node[rrchar] (qm-ch) at (78.6,6506.1) {"};
\node[rrdot] (qm-e) at (120,6506.1) {};
\draw[rrline] (qm-s) to (qm-ch) to (qm-e);

\node[rrhead] (jc-t) at (10,6556.8) {JSON-char:};
\node[rrdot] (jc-s) at (38,6578.4) {};
\node[rrbox, anchor=west] (jc-un) at (86.2,6578.4) {unescaped};
\node[rrbox, anchor=west] (jc-esc) at (86.2,6625.3) {escape};
\node[rrdot] (jc-e) at (439.7,6578.4) {};
\draw[rrline] (jc-s) to (jc-un) to (jc-e);
\rrdown{75.9}{6578.4}{6625.3}{jc-esc}
\node[rrchar, anchor=west] (jc-0) at (206.3,6625.3) {"};
\draw[rrline] (jc-esc) to (jc-0);
\rrup{jc-0}{403.4}{6578.4}
\foreach \lbl [count=\i] in {\textbackslash,/,b,f,n,r,t,u} {
  \node[rrchar, anchor=west] (jc-\i) at (206.3,6625.3+46.1*\i) {\lbl};
  \rrdown{196.3}{6625.3}{6625.3+46.1*\i}{jc-\i}
  \ifnum\i<8 \rrup{jc-\i}{382.8}{6625.3}\fi
}
\node[rrbox] (jc-hex) at (312,6994.1) {HEXDIG};
\draw[rrline] (jc-8) to (jc-hex);
\rrup{jc-hex}{382.8}{6625.3}
\rrloop{262.2}{361.3}{6994.1}{7018.9}
\node[inner sep=0pt, font=\ttfamily\fontsize{8}{9}\selectfont] (jc-rep) at (312,7012.5) {4};

\node[rrhead] (ue-t) at (10,7056.2) {unescaped:};
\node[rrdot] (ue-s) at (38,7077.7) {};
\node[rrterm] (ue-set) at (139.4,7077.7) {[not \textasciicircum @-\textasciicircum Y " \textbackslash]};
\node[rrdot] (ue-e) at (242.3,7077.7) {};
\draw[rrline] (ue-s) to (ue-set) to (ue-e);

\node[rrhead] (esc-t) at (10,7128.3) {escape:};
\node[rrdot] (esc-s) at (38,7149.4) {};
\node[rrchar] (esc-ch) at (79.1,7149.4) {\textbackslash};
\node[rrdot] (esc-e) at (119.8,7149.4) {};
\draw[rrline] (esc-s) to (esc-ch) to (esc-e);

\node[rrhead] (hx-t) at (10,7200) {HEXDIG:};
\node[rrdot] (hx-s) at (38,7221.5) {};
\node[rrbox, anchor=west] (hx-0) at (86.2,7221.5) {digit};
\foreach \lbl [count=\i] in {A,B,C,D,E,F} {
  \node[rrchar, anchor=west] (hx-\i) at (86.2,7221.5+46.1*\i) {\lbl};
  \rrdown{75.9}{7221.5}{7221.5+46.1*\i}{hx-\i}
  \rrup{hx-\i}{175.5}{7221.5}
}
\node[rrdot] (hx-e) at (214,7221.5) {};
\draw[rrline] (hx-s) to (hx-0) to (hx-e);
\end{tikzpicture}
\end{document}
